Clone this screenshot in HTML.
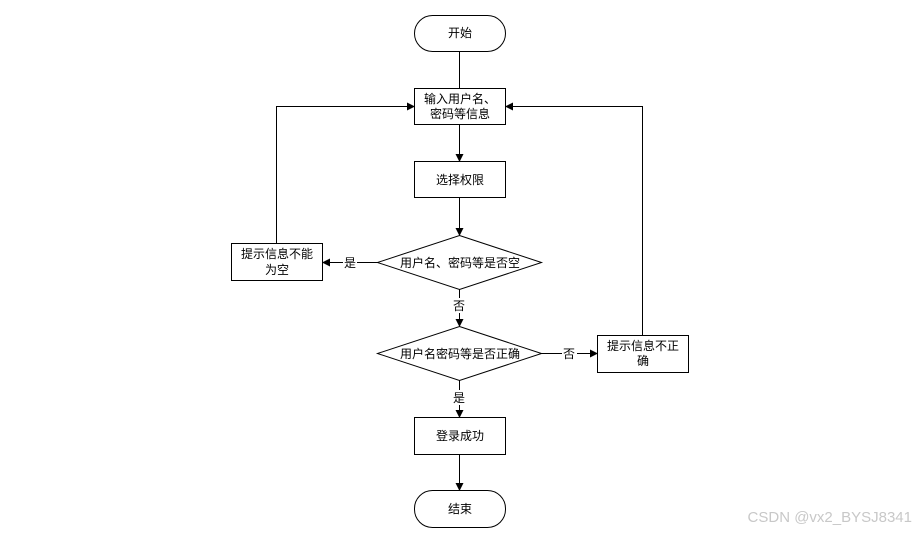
<!DOCTYPE html>
<html><head><meta charset="utf-8"><style>
html,body{margin:0;padding:0;background:#fff;width:916px;height:533px;overflow:hidden}
text{font-family:"Liberation Sans","Noto Sans CJK SC",sans-serif;font-size:12px;fill:#000}
</style></head><body>
<svg width="916" height="533" viewBox="0 0 916 533" xmlns="http://www.w3.org/2000/svg">
<defs><marker id="a" markerWidth="8" markerHeight="8" refX="7" refY="4" orient="auto" markerUnits="userSpaceOnUse"><path d="M0,0 L8,4 L0,8 z" fill="#000"/></marker></defs>
<g stroke="#000" stroke-width="1" fill="none">
<rect x="414.5" y="15.5" width="91" height="36" rx="18" fill="#fff"/>
<rect x="414.5" y="88.5" width="91" height="36" fill="#fff"/>
<rect x="414.5" y="161.5" width="91" height="36" fill="#fff"/>
<polygon points="459.5,235.5 541.5,262.5 459.5,289.5 377.5,262.5" fill="#fff"/>
<rect x="231.5" y="243.5" width="91" height="37" fill="#fff"/>
<polygon points="459.5,326.5 541.5,353.5 459.5,380.5 377.5,353.5" fill="#fff"/>
<rect x="597.5" y="335.5" width="91" height="37" fill="#fff"/>
<rect x="414.5" y="417.5" width="91" height="37" fill="#fff"/>
<rect x="414.5" y="490.5" width="91" height="37" rx="18" fill="#fff"/>
<line x1="459.5" y1="51.5" x2="459.5" y2="88.5"/>
<line x1="459.5" y1="124.5" x2="459.5" y2="161" marker-end="url(#a)"/>
<line x1="459.5" y1="197.5" x2="459.5" y2="235" marker-end="url(#a)"/>
<line x1="377.5" y1="262.5" x2="323" y2="262.5" marker-end="url(#a)"/>
<polyline points="276.5,243.5 276.5,106.5 414,106.5" marker-end="url(#a)"/>
<line x1="459.5" y1="289.5" x2="459.5" y2="326" marker-end="url(#a)"/>
<line x1="541.5" y1="353.5" x2="597" y2="353.5" marker-end="url(#a)"/>
<polyline points="642.5,335.5 642.5,106.5 506,106.5" marker-end="url(#a)"/>
<line x1="459.5" y1="380.5" x2="459.5" y2="417" marker-end="url(#a)"/>
<line x1="459.5" y1="454.5" x2="459.5" y2="490" marker-end="url(#a)"/>
</g>
<rect x="343" y="255" width="14" height="15" fill="#fff"/>
<rect x="452" y="298" width="15" height="15" fill="#fff"/>
<rect x="562" y="346" width="15" height="15" fill="#fff"/>
<rect x="452" y="390" width="15" height="15" fill="#fff"/>
<g text-anchor="middle">
<text x="460" y="37">开始</text>
<text x="460" y="103">输入用户名、</text>
<text x="460" y="118">密码等信息</text>
<text x="460" y="184">选择权限</text>
<text x="460" y="267">用户名、密码等是否空</text>
<text x="277" y="258">提示信息不能</text>
<text x="277" y="274">为空</text>
<text x="350" y="267">是</text>
<text x="459" y="310">否</text>
<text x="460" y="358">用户名密码等是否正确</text>
<text x="569" y="358">否</text>
<text x="643" y="350">提示信息不正</text>
<text x="643" y="365">确</text>
<text x="459" y="402">是</text>
<text x="460" y="440">登录成功</text>
<text x="460" y="513">结束</text>
</g>
<text x="912" y="522" text-anchor="end" style="font-size:15px;fill:#c8c8c8">CSDN @vx2_BYSJ8341</text>
</svg>
</body></html>
